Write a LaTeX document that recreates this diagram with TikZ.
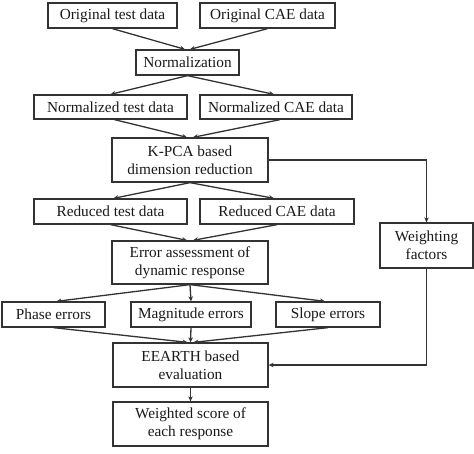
\documentclass[tikz,border=0pt]{standalone}
\usepackage{fontspec}
\setmainfont{Liberation Serif}
\usetikzlibrary{arrows.meta,calc}
\definecolor{ink}{rgb}{0.2,0.2,0.2}
\definecolor{txt}{rgb}{0.1,0.1,0.1}
\begin{document}
\begin{tikzpicture}[x=1pt,y=-1pt,
  box/.style={draw=ink,line width=1.3pt,rectangle,inner sep=0pt,align=center,
    text=txt,font=\fontsize{15.3}{18}\selectfont},
  arr/.style={draw=ink,line width=1.3pt,-{Stealth[length=5pt,width=4.5pt]}},
  ln/.style={draw=ink,line width=1.3pt}]
\useasboundingbox (0,0) rectangle (474,453);
\fill[white] (0,0) rectangle (474,453);
\node[box,minimum width=129,minimum height=25] (ot) at (112.5,15.5) {Original test data};
\node[box,minimum width=135,minimum height=25] (oc) at (267.5,15.5) {Original CAE data};
\node[box,minimum width=103,minimum height=25] (norm) at (187.5,62.5) {Normalization};
\node[box,minimum width=153,minimum height=24] (nt) at (110.5,107) {Normalized test data};
\node[box,minimum width=152,minimum height=24] (nc) at (276,107) {Normalized CAE data};
\node[box,minimum width=156,minimum height=44] (kpca) at (190,160) {K-PCA based\\dimension reduction};
\node[box,minimum width=153,minimum height=25] (rt) at (110.5,211.5) {Reduced test data};
\node[box,minimum width=154,minimum height=25] (rc) at (277,211.5) {Reduced CAE data};
\node[box,minimum width=156,minimum height=43] (err) at (190,262.5) {Error assessment of\\dynamic response};
\node[box,minimum width=93,minimum height=45] (wf) at (426.5,245.5) {Weighting\\factors};
\node[box,minimum width=103,minimum height=25] (ph) at (53.5,314.5) {Phase errors};
\node[box,minimum width=120,minimum height=25] (mag) at (191,314.5) {Magnitude errors};
\node[box,minimum width=104,minimum height=25] (sl) at (328,314.5) {Slope errors};
\node[box,minimum width=155,minimum height=44] (ee) at (190.5,365) {EEARTH based\\evaluation};
\node[box,minimum width=155,minimum height=44] (ws) at (190.5,424) {Weighted score of\\each response};

\draw[arr] (ot.south) -- ([xshift=-2.5pt]norm.north);
\draw[arr] (oc.south) -- ([xshift=2.5pt]norm.north);
\draw[arr] (norm.south) -- (nt.north);
\draw[arr] (norm.south) -- ([xshift=-2pt]nc.north);
\draw[arr] ([xshift=4pt]nt.south) -- ([xshift=-3pt]kpca.north);
\draw[arr] ([xshift=4pt]nc.south) -- ([xshift=3pt]kpca.north);
\draw[arr] (kpca.south) -- ([xshift=3pt]rt.north);
\draw[arr] (kpca.south) -- ([xshift=-3pt]rc.north);
\draw[arr] (rt.south) -- ([xshift=-3pt]err.north);
\draw[arr] (rc.south) -- ([xshift=3pt]err.north);
\draw[arr] (kpca.east) -| (wf.north);
\draw[arr] (err.south) -- ([xshift=3pt]ph.north);
\draw[arr] (err.south) -- (mag.north);
\draw[arr] (err.south) -- ([xshift=-3pt]sl.north);
\draw[arr] (ph.south) -- ([xshift=-3pt]ee.north);
\draw[arr] (mag.south) -- ([xshift=0pt]ee.north);
\draw[arr] (sl.south) -- ([xshift=3pt]ee.north);
\draw[arr] (wf.south) |- (ee.east);
\draw[arr] (ee.south) -- (ws.north);
\end{tikzpicture}
\end{document}
